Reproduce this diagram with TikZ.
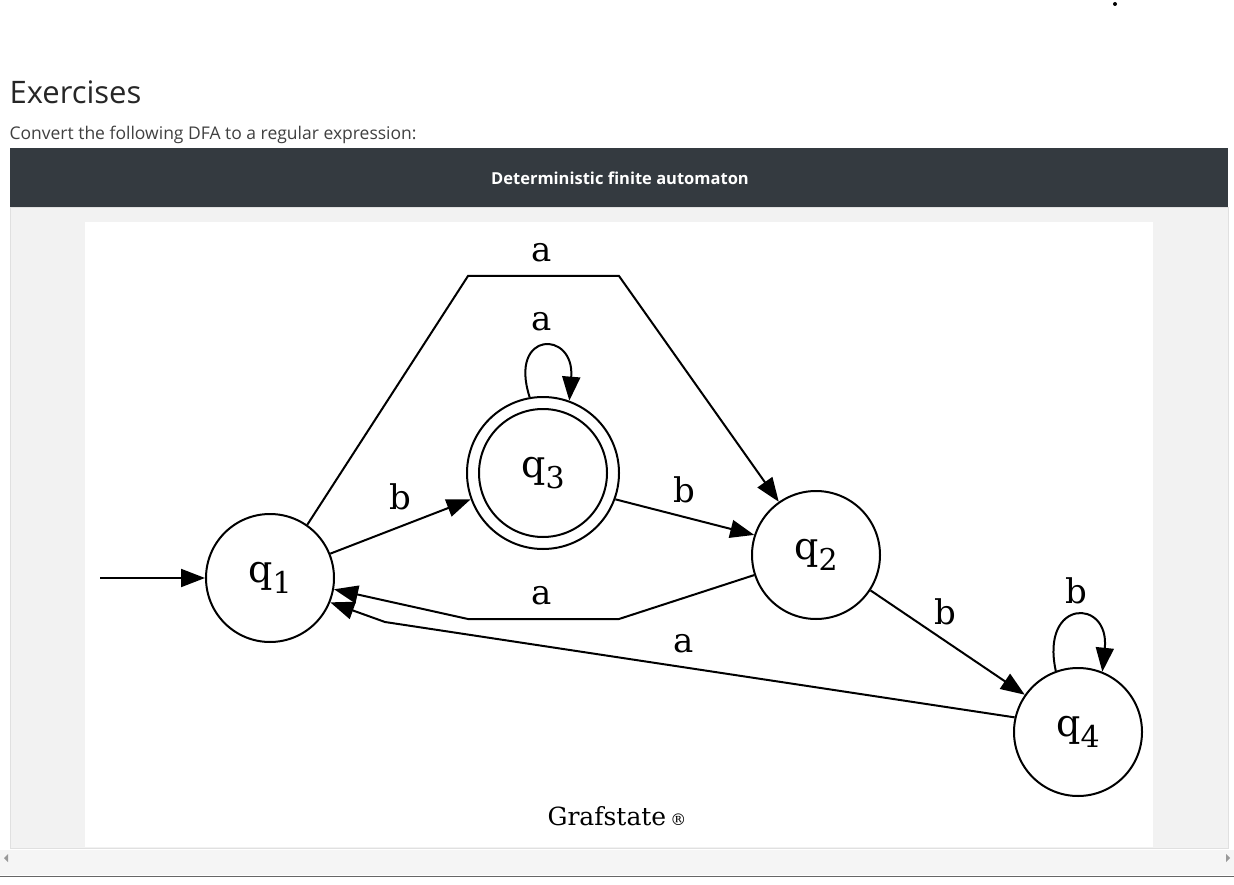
\documentclass[tikz,border=0pt]{standalone}
\usepackage{fontspec}
\setmainfont{DejaVu Serif}
\newfontfamily\uisans{Open Sans}
\usetikzlibrary{arrows.meta}
\definecolor{hdr}{HTML}{343A40}
\definecolor{panel}{HTML}{F2F2F2}
\newcommand{\qs}[1]{q\raisebox{-0.28em}{\fontsize{30}{30}\selectfont #1}}
\begin{document}
\begin{tikzpicture}[x=1pt,y=-1pt,
  st/.style={draw,line width=2pt,circle,minimum size=128pt,inner sep=0pt,font=\fontsize{38}{38}\selectfont},
  edge/.style={line width=2pt,-{Triangle[length=24pt,width=18pt]}},
  lbl/.style={font=\fontsize{34}{34}\selectfont}]
\useasboundingbox (0,0) rectangle (1234,885);
\fill[white] (0,0) rectangle (1234,885);
\fill (1115,4) circle (2);
\node[anchor=west,font=\uisans\fontsize{31}{31}\selectfont,text=black!85] (title) at (6,92) {Exercises};
\node[anchor=west,font=\uisans\fontsize{17.5}{17.5}\selectfont,text=black!75] (sub) at (6,135) {Convert the following DFA to a regular expression:};
\fill[hdr] (10,148) rectangle (1228,207);
\node[font=\uisans\fontsize{16.5}{16.5}\selectfont\bfseries,text=white] (head) at (620,178) {Deterministic finite automaton};
\filldraw[fill=panel,draw=black!12] (10,207) rectangle (1228,848);
\fill[white] (85,222) rectangle (1153,847);
\fill[black!4] (0,850) rectangle (1234,875);
\draw[black!60] (0,876) -- (1234,876);
\fill[black!40] (4,858) -- (8,854) -- (8,862) -- cycle;
\fill[black!40] (1230,858) -- (1226,854) -- (1226,862) -- cycle;
\node[st] (q1) at (270,578) {\qs{1}};
\node[st] (q3) at (543,473) {\qs{3}};
\node[draw,line width=2pt,circle,minimum size=152pt] (q3o) at (543,473) {};
\node[st] (q2) at (816,555) {\qs{2}};
\node[st] (q4) at (1078,732) {\qs{4}};
\coordinate (init) at (100,578);
\draw[edge] (init) -- (q1);
\draw[edge] (q1.55) -- (468,276) -- (619,276) -- (q2.125);
\node[lbl] (la1) at (542,253) {a};
\draw[edge] (q3o.100) .. controls (508,330) and (575,330) .. (q3o.70);
\node[lbl] (la2) at (542,322) {a};
\draw[edge] (q1.22) -- (q3o.200);
\node[lbl] (lb1) at (400,497) {b};
\draw[edge] (q3o.-20) -- (q2.162);
\node[lbl] (lb2) at (684,490) {b};
\draw[edge] (q2.198) -- (619,619) -- (468,619) -- (q1.-10);
\node[lbl] (la3) at (542,596) {a};
\draw[edge] (q2.-33) -- (q4.145);
\node[lbl] (lb3) at (945,612) {b};
\draw[edge] (q4.110) .. controls (1040,598) and (1110,598) .. (q4.68);
\node[lbl] (lb4) at (1076,591) {b};
\draw[edge] (q4.167) -- (385,622) -- (q1.-22);
\node[lbl] (la4) at (684,644) {a};
\node[font=\fontsize{25}{25}\selectfont] (gs) at (617,816) {Grafstate\,{\fontsize{16}{16}\selectfont ®}};
\end{tikzpicture}
\end{document}
